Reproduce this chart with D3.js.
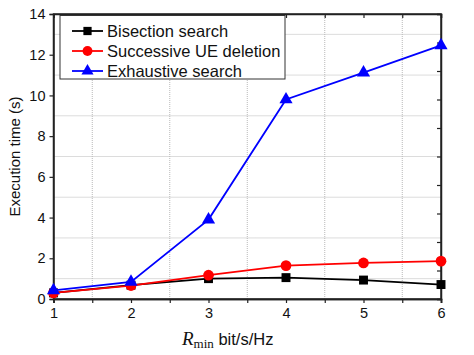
<!DOCTYPE html>
<html>
<head>
<meta charset="utf-8">
<script src="https://cdn.jsdelivr.net/npm/d3@7"></script>
<style>
  body { margin: 0; background: #fff; }
  svg { display: block; font-family: Arial, "Liberation Sans", sans-serif; }
</style>
</head>
<body>
<div id="chart"></div>
<script>
// Data
const rateValues = [1, 2, 3, 4, 5, 6];
const bisectionTime = [0.3, 0.68, 1.0, 1.05, 0.93, 0.71];
const deletionTime = [0.3, 0.66, 1.17, 1.64, 1.77, 1.86];
const exhaustiveTime = [0.42, 0.84, 3.9, 9.8, 11.12, 12.46];
const seriesNames = ["Bisection search", "Successive UE deletion", "Exhaustive search"];
const yTicks = [0, 2, 4, 6, 8, 10, 12, 14];

const width = 474, height = 355;
const margin = { left: 53.5, right: 33, top: 14, bottom: 56 };

const svg = d3.select("#chart").append("svg")
    .attr("width", width)
    .attr("height", height);

const x = d3.scaleLinear().domain([1, 6]).range([margin.left, width - margin.right]);
const y = d3.scaleLinear().domain([0, 14]).range([height - margin.bottom, margin.top]);
// right axis only carries tick marks
const yRight = d3.scaleLinear().domain([0, 10]).range(y.range());

const x0 = x(1), x1 = x(6), y0 = y(0), y1 = y(14);

// Grid (minor positions, dotted)
const grid = svg.append("g").attr("stroke", "#b8b8b8").attr("stroke-width", 1)
    .attr("stroke-dasharray", "1,1");
d3.range(1.5, 6, 1).forEach(v => {
    grid.append("line").attr("x1", x(v)).attr("x2", x(v)).attr("y1", y0).attr("y2", y1);
});
d3.range(1, 14, 2).forEach(v => {
    grid.append("line").attr("x1", x0).attr("x2", x1).attr("y1", y(v)).attr("y2", y(v));
});

// Axes
svg.append("g").attr("transform", `translate(0,${y0})`)
    .call(d3.axisBottom(x).tickValues(rateValues).tickFormat(d3.format("d")).tickSize(4).tickPadding(5));
svg.append("g").attr("transform", `translate(0,${y0})`)
    .call(d3.axisBottom(x).tickValues(d3.range(1.5, 6, 1)).tickFormat("").tickSize(4));
svg.append("g").attr("transform", `translate(${x0},0)`)
    .call(d3.axisLeft(y).tickValues(yTicks).tickSize(4).tickPadding(4));
svg.append("g").attr("transform", `translate(0,${y1})`)
    .call(d3.axisBottom(x).tickValues(d3.range(1, 6.01, 0.5)).tickFormat("").tickSize(4));
svg.append("g").attr("transform", `translate(${x1},0)`)
    .call(d3.axisLeft(yRight).ticks(10).tickFormat("").tickSize(4));

svg.selectAll(".domain").attr("stroke", "#222").attr("stroke-width", 1.5);
svg.selectAll(".tick line").attr("stroke", "#222").attr("stroke-width", 1.2);
svg.selectAll(".tick text").attr("font-size", 14.5).attr("fill", "#111")
    .attr("font-family", "Arial, 'Liberation Sans', sans-serif");
// frame
svg.append("rect").attr("x", x0).attr("y", y1).attr("width", x1 - x0).attr("height", y0 - y1)
    .attr("fill", "none").attr("stroke", "#222").attr("stroke-width", 1.5);

// Axis titles
svg.append("text")
    .attr("transform", `translate(20,${(y0 + y1) / 2}) rotate(-90)`)
    .attr("text-anchor", "middle")
    .attr("font-size", 15)
    .attr("fill", "#111")
    .text("Execution time (s)");

const xTitle = svg.append("text").attr("x", 182).attr("y", 345).attr("fill", "#111");
xTitle.append("tspan").attr("font-family", "'Liberation Serif', 'Times New Roman', serif")
    .attr("font-style", "italic").attr("font-size", 19).text("R");
xTitle.append("tspan").attr("font-family", "'Liberation Serif', 'Times New Roman', serif")
    .attr("font-size", 13).attr("dy", 3).text("min");
xTitle.append("tspan").attr("font-size", 16.5).attr("dy", -3).text(" bit/s/Hz");

// Series
const series = [
    { name: seriesNames[0], values: bisectionTime, color: "#000000", shape: d3.symbolSquare, size: 80 },
    { name: seriesNames[1], values: deletionTime, color: "#ff0000", shape: d3.symbolCircle, size: 90 },
    { name: seriesNames[2], values: exhaustiveTime, color: "#0000ff", shape: d3.symbolTriangle, size: 75 }
];

const line = d3.line().x((d, i) => x(rateValues[i])).y(d => y(d));

series.forEach(s => {
    const g = svg.append("g");
    g.append("path").datum(s.values).attr("d", line)
        .attr("fill", "none").attr("stroke", s.color).attr("stroke-width", 1.8);
    g.selectAll("path.m").data(s.values).enter().append("path").attr("class", "m")
        .attr("transform", (d, i) => `translate(${x(rateValues[i])},${y(d)})`)
        .attr("d", d3.symbol().type(s.shape).size(s.size))
        .attr("fill", s.color);
});

// Legend
const legend = svg.append("g");
legend.append("rect").attr("x", 60).attr("y", 15.5).attr("width", 225).attr("height", 63.5)
    .attr("fill", "#fff").attr("stroke", "#333").attr("stroke-width", 1);
series.forEach((s, i) => {
    const cy = 31 + i * 20;
    legend.append("line").attr("x1", 72).attr("x2", 103).attr("y1", cy).attr("y2", cy)
        .attr("stroke", s.color).attr("stroke-width", 1.8);
    legend.append("path").attr("transform", `translate(87.5,${cy})`)
        .attr("d", d3.symbol().type(s.shape).size(s.size * 0.85)).attr("fill", s.color);
    legend.append("text").attr("x", 107).attr("y", cy + 6).attr("font-size", 16.5)
        .attr("fill", "#111").text(s.name);
});
</script>
</body>
</html>
